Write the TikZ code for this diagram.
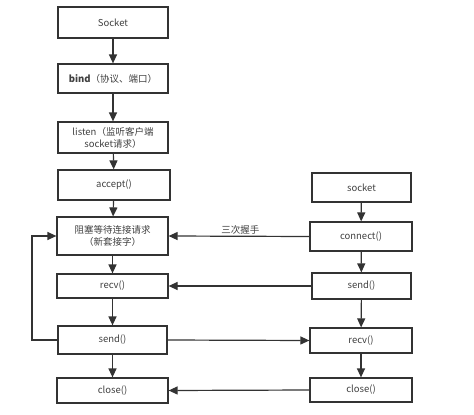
\documentclass[tikz,border=0pt]{standalone}
\usepackage{fontspec}
\setmainfont{Noto Sans CJK SC}
\usetikzlibrary{arrows.meta}
\begin{document}
\begin{tikzpicture}[x=1pt,y=-1pt,
  box/.style={draw=black!80,line width=1.2pt,minimum width=110pt,inner sep=0pt,align=center,text=black!75,font=\fontsize{9.5}{12}\selectfont},
  arr/.style={draw=black!80,line width=1.2pt,-{Triangle[length=9pt,width=8pt]}},
  ln/.style={draw=black!80,line width=1.2pt}]
\useasboundingbox (0,0) rectangle (474,415);
% left column
\node[box,minimum height=31pt] (s) at (113,22.5) {Socket};
\node[box,minimum height=29pt] (b) at (113,78.5) {\textbf{bind}（协议、端口）};
\node[box,minimum height=31pt] (l) at (113,137.5) {listen（监听客户端\\socket请求）};
\node[box,minimum height=30pt,minimum width=112pt] (a) at (114,185) {accept()};
\node[box,minimum height=38pt,minimum width=111pt] (w) at (112.5,236) {阻塞等待连接请求\\（新套接字）};
\node[box,minimum height=24pt,minimum width=111pt] (r) at (112.5,286) {recv()};
\node[box,minimum height=28pt,minimum width=109pt] (sd) at (112.5,340) {send()};
\node[box,minimum height=25pt,minimum width=111pt] (c) at (112.5,390.5) {close()};
% right column
\node[box,minimum height=29pt,minimum width=99pt] (rs) at (361.5,187.5) {socket};
\node[box,minimum height=29pt,minimum width=102pt] (rc) at (361,236.5) {connect()};
\node[box,minimum height=26pt,minimum width=99pt] (rsd) at (361.5,286) {send()};
\node[box,minimum height=25pt,minimum width=102pt] (rr) at (361,340.5) {recv()};
\node[box,minimum height=24pt,minimum width=102pt] (rcl) at (361,390) {close()};
% vertical arrows
\draw[arr] (s) -- (b);
\draw[arr] (b) -- (l);
\draw[arr] (l) -- (a);
\draw[arr] (a) -- (w);
\draw[arr] (w) -- (r);
\draw[arr] (r) -- (sd);
\draw[arr] (sd) -- (c);
\draw[arr] (rs) -- (rc);
\draw[arr] (rc) -- (rsd);
\draw[arr] (rsd) -- (rr);
\draw[arr] (rr) -- (rcl);
% horizontal
\draw[arr] (rc.west) -- (w.east) node[pos=0.49,above,inner sep=1.5pt,text=black!75,font=\fontsize{9.5}{12}\selectfont] {三次握手};
\draw[arr] (rsd.west) -- (r.east);
\draw[arr] (sd.east) -- (rr.west);
\draw[arr] (rcl.west) -- (c.east);
\coordinate (k1) at (32,340);
\coordinate (k2) at (32,236);
\draw[arr] (sd.west) -- (k1) -- (k2) -- (w.west);
\end{tikzpicture}
\end{document}
